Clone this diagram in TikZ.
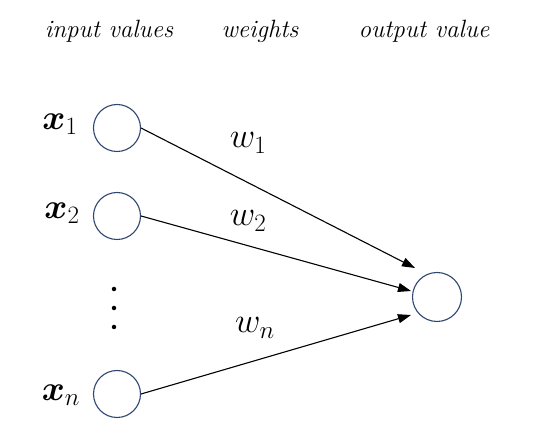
\RequirePackage{fix-cm}
\documentclass[tikz,border=0pt]{standalone}
\usepackage{amsmath,amssymb,bm}
\usetikzlibrary{arrows.meta}
\DeclareMathSizes{35}{35}{25}{18}
\definecolor{ringblue}{HTML}{2E4670}
\begin{document}
\begin{tikzpicture}[x=1pt,y=-1pt,
  neuron/.style={circle,draw=ringblue,line width=1.1pt,minimum size=47pt,inner sep=0pt},
  hdr/.style={font=\fontsize{25}{29}\selectfont\itshape},
  lbl/.style={font=\fontsize{35}{40}\selectfont},
  conn/.style={line width=1.1pt,-{Triangle[length=13pt,width=9pt]}},
  dotmark/.style={circle,fill=black,inner sep=0pt,minimum size=4.5pt}]
\useasboundingbox (0,0) rectangle (555,443);
\node[hdr] (h1) at (109,31) {input values};
\node[hdr] (h2) at (260,31) {weights};
\node[hdr] (h3) at (424,31) {output value};
\node[neuron] (a1) at (117,128) {};
\node[neuron] (a2) at (117,216) {};
\node[neuron] (an) at (117,394) {};
\node[neuron,minimum size=49pt] (o) at (437,297) {};
\node[lbl] (l1) at (60,124) {$\bm{x}_1$};
\node[lbl] (l2) at (62,213) {$\bm{x}_2$};
\node[lbl] (ln) at (61,395) {$\bm{x}_n$};
\node[lbl] (w1) at (248,143) {$w_1$};
\node[lbl] (w2) at (248,221) {$w_2$};
\node[lbl] (wn) at (255,328) {$w_n$};
\node[dotmark] (d1) at (114,289) {};
\node[dotmark] (d2) at (114,308) {};
\node[dotmark] (d3) at (114,327) {};
\coordinate (t1) at (415,268);
\coordinate (t2) at (411,291);
\coordinate (tn) at (411,315);
\draw[conn] (a1.east) -- (t1);
\draw[conn] (a2.east) -- (t2);
\draw[conn] (an.east) -- (tn);
\end{tikzpicture}
\end{document}
